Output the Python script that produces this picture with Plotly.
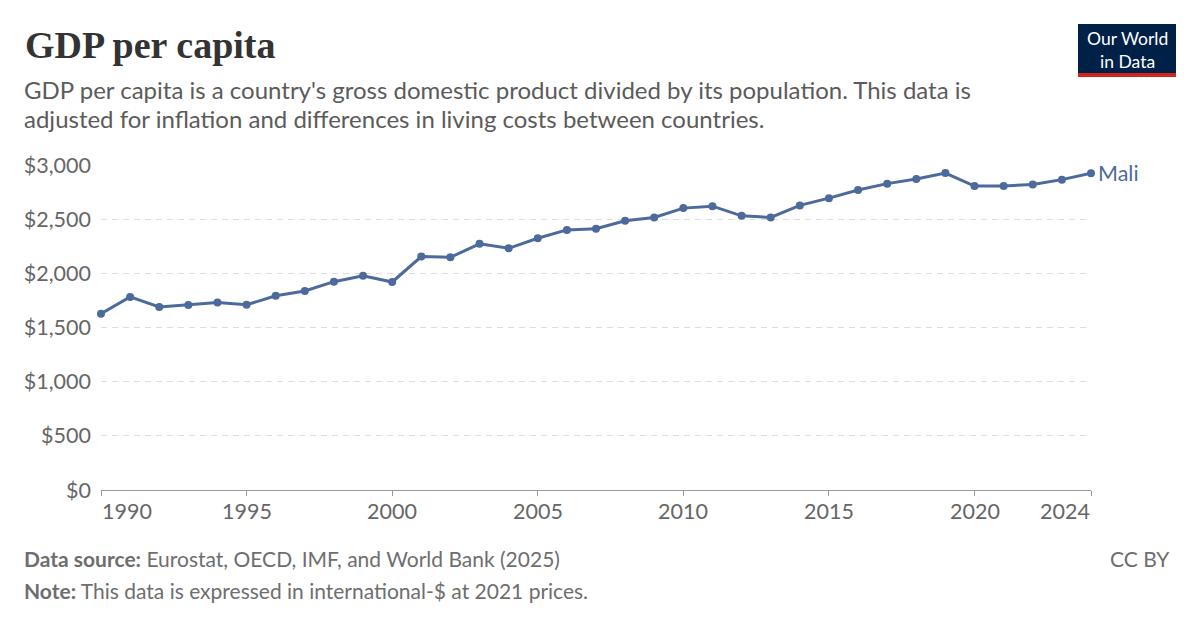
import plotly.graph_objects as go

years = list(range(1990, 2025))
gdp = [1627, 1782, 1690, 1707, 1731, 1710, 1793, 1837, 1923, 1978,
       1920, 2155, 2148, 2272, 2231, 2324, 2401, 2411, 2485, 2516,
       2602, 2620, 2531, 2516, 2627, 2694, 2769, 2828, 2870, 2926,
       2806, 2806, 2821, 2865, 2923]
country = "Mali"
x_ticks = [1990, 1995, 2000, 2005, 2010, 2015, 2020, 2024]
y_ticks = [0, 500, 1000, 1500, 2000, 2500, 3000]
y_labels = ["$0", "$500", "$1,000", "$1,500", "$2,000", "$2,500", "$3,000"]

BLUE = "#4C6A9C"
OFF = 8  # page body margin
W, H = 1200 - OFF, 627 - OFF
# plot area in page pixels
L, R, T, B = 101, 1091, 165, 490

def px(xp):
    return (xp - L) / (R - L)

def py(yp):
    return (B - yp) / (B - T)

fig = go.Figure()
fig.add_trace(go.Scatter(
    x=years, y=gdp, mode="lines+markers",
    line=dict(color=BLUE, width=3),
    marker=dict(color=BLUE, size=8),
    showlegend=False, hoverinfo="skip", cliponaxis=False,
))

fig.update_layout(
    width=W, height=H,
    margin=dict(l=L - OFF, r=1200 - R, t=T - OFF, b=627 - B, pad=0),
    paper_bgcolor="white", plot_bgcolor="white",
    font=dict(family="Lato", color="#666666"),
    xaxis=dict(
        range=[1990, 2024], tickvals=x_ticks, showticklabels=False,
        showgrid=False, zeroline=False, showline=True, linecolor="#999999", linewidth=1,
        ticks="outside", ticklen=5, tickcolor="#999999",
    ),
    yaxis=dict(
        range=[0, 3000], tickvals=y_ticks, ticktext=y_labels,
        showgrid=True, gridcolor="#dddddd", griddash="6px,5px", gridwidth=1,
        zeroline=False, showline=False, ticks="",
        tickfont=dict(family="Lato", size=21.5, color="#666666"),
        ticklabelstandoff=9,
    ),
)

annotations = [
    dict(text=country, x=2024, y=gdp[-1], xref="x", yref="y", xanchor="left", yanchor="middle",
         xshift=5, showarrow=False, font=dict(family="Lato", size=21.5, color=BLUE)),
    dict(text="<b>GDP per capita</b>", x=px(23), y=py(45), xref="paper", yref="paper",
         xanchor="left", yanchor="middle", showarrow=False,
         font=dict(family="Liberation Serif", size=38, color="#333333")),
    dict(text="GDP per capita is a country's gross domestic product divided by its population. This data is",
         x=px(22), y=py(89), xref="paper", yref="paper", xanchor="left", yanchor="middle",
         showarrow=False, font=dict(family="Lato", size=24, color="#5b5b5b")),
    dict(text="adjusted for inflation and differences in living costs between countries.",
         x=px(22), y=py(118), xref="paper", yref="paper", xanchor="left", yanchor="middle",
         showarrow=False, font=dict(family="Lato", size=24, color="#5b5b5b")),
    dict(text="<b>Data source:</b> Eurostat, OECD, IMF, and World Bank (2025)",
         x=px(22), y=py(558), xref="paper", yref="paper", xanchor="left", yanchor="middle",
         showarrow=False, font=dict(family="Lato", size=21, color="#6e6e6e")),
    dict(text="<b>Note:</b> This data is expressed in international-$ at 2021 prices.",
         x=px(22), y=py(590), xref="paper", yref="paper", xanchor="left", yanchor="middle",
         showarrow=False, font=dict(family="Lato", size=21, color="#6e6e6e")),
    dict(text="CC BY", x=px(1172), y=py(558), xref="paper", yref="paper", xanchor="right", yanchor="middle",
         showarrow=False, font=dict(family="Lato", size=21, color="#6e6e6e")),
    dict(text="Our World<br>in Data", x=px(1127), y=py(50), xref="paper", yref="paper",
         xanchor="center", yanchor="middle", showarrow=False, align="center",
         font=dict(family="Lato", size=17.5, color="white")),
]
for i, t in enumerate(x_ticks):
    anchor = "left" if i == 0 else ("right" if i == len(x_ticks) - 1 else "center")
    xs = -1 if anchor == "left" else (1 if anchor == "right" else 0)
    annotations.append(dict(text=str(t), x=t, y=py(511), xref="x", yref="paper",
                            xanchor=anchor, yanchor="middle", xshift=xs, showarrow=False,
                            font=dict(family="Lato", size=21.5, color="#666666")))
fig.update_layout(annotations=annotations)

fig.add_shape(type="rect", xref="paper", yref="paper", x0=px(1078), x1=px(1176), y0=py(73), y1=py(24),
              fillcolor="#002147", line=dict(width=0), layer="below")
fig.add_shape(type="rect", xref="paper", yref="paper", x0=px(1078), x1=px(1176), y0=py(77), y1=py(73),
              fillcolor="#CE261E", line=dict(width=0), layer="below")

fig.write_html("out.html")
